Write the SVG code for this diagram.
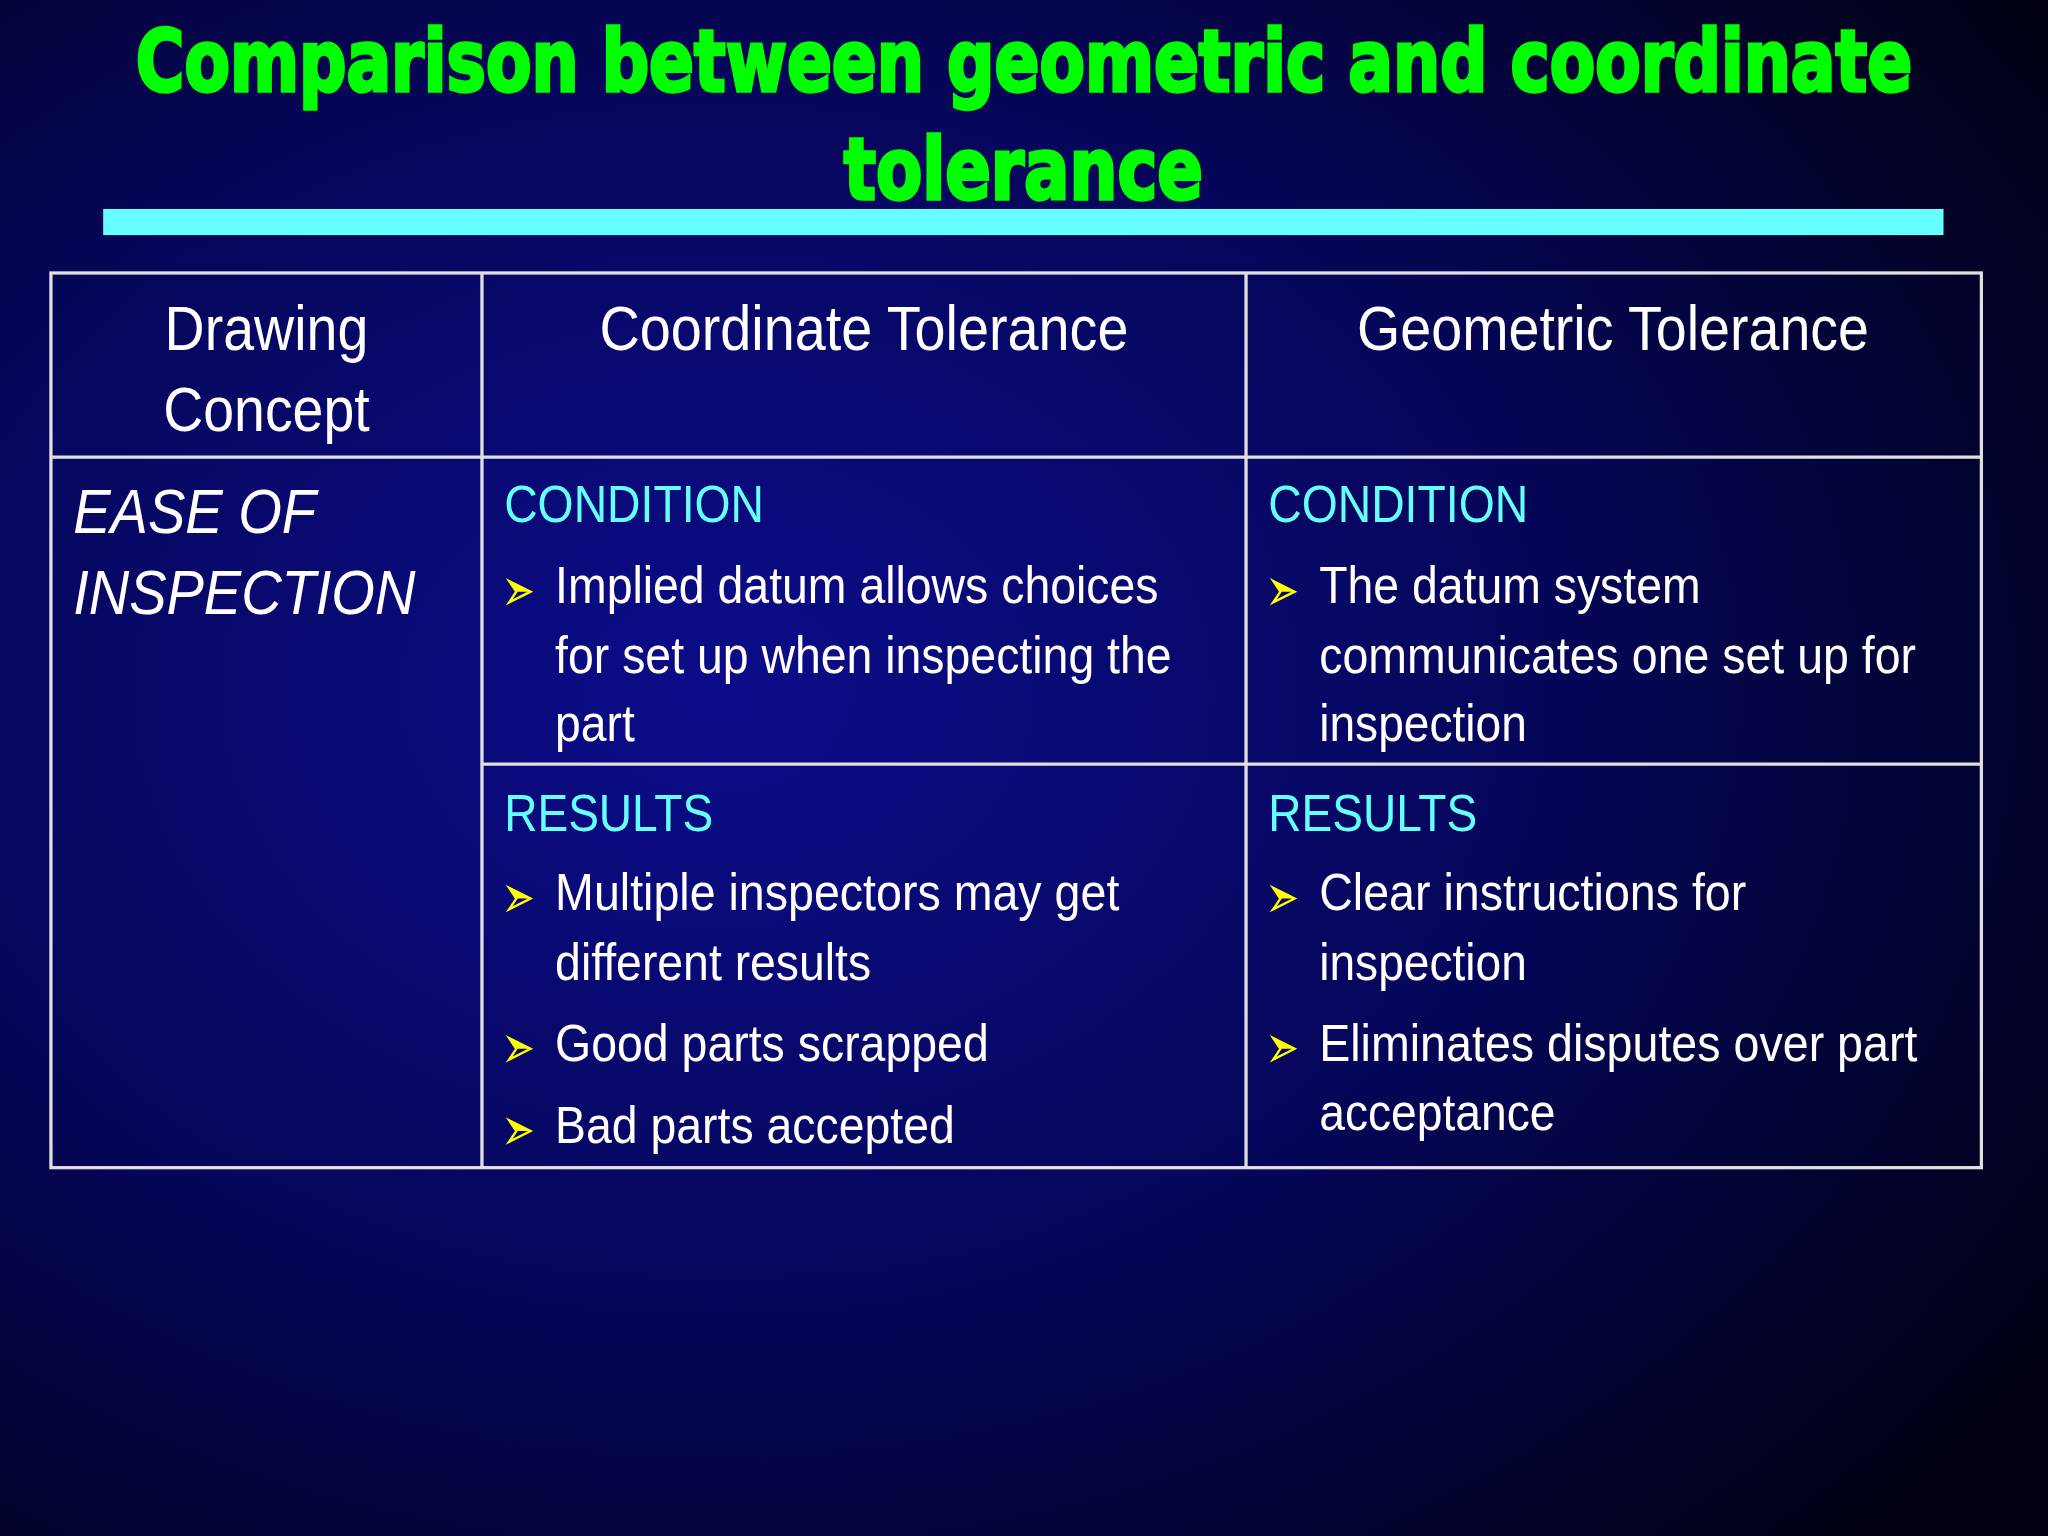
<svg xmlns="http://www.w3.org/2000/svg" width="2048" height="1536" viewBox="0 0 2048 1536">
<defs>
<radialGradient id="bg" cx="0.35" cy="0.45" r="0.8">
<stop offset="0" stop-color="#0c0c8a"/>
<stop offset="0.5" stop-color="#06065a"/>
<stop offset="1" stop-color="#000010"/>
</radialGradient>
<symbol id="arr" viewBox="0 0 22 22" overflow="visible">
<path d="M2 2 L20 11 L2 20 L8 11 Z" fill="none" stroke="#ffff00" stroke-width="2"/>
<path d="M2 2 L20 11 L8 11 Z" fill="#ffff00"/>
</symbol>
<style>
.t{fill:#00ff00;stroke:#00ff00;stroke-width:2.5;font-family:"DejaVu Sans Condensed","DejaVu Sans",sans-serif;font-weight:bold;font-size:66px}
.h{fill:#ffffff;font-family:"Liberation Sans",Arial,sans-serif;font-size:48px}
.c{fill:#ffffff;font-family:"Liberation Sans",Arial,sans-serif;font-size:40px}
.k{fill:#66ffff;font-family:"Liberation Sans",Arial,sans-serif;font-size:40px}
.g{stroke:#e0e0e0;stroke-width:2.5;fill:none}
</style>
</defs>
<rect width="2048" height="1536" fill="url(#bg)"/>
<g transform="scale(1.30612)">
<g id="title">
<text class="t" x="104" y="70" textLength="1360" lengthAdjust="spacingAndGlyphs">Comparison between geometric and coordinate</text>
<text class="t" x="646" y="152" textLength="275" lengthAdjust="spacingAndGlyphs">tolerance</text>
<rect x="79" y="160" width="1409" height="20" fill="#66ffff"/>
</g>
<g id="grid">
<rect x="39" y="209" width="1478" height="685" class="g" stroke-width="4"/>
<line x1="369" y1="209" x2="369" y2="894" class="g"/>
<line x1="954" y1="209" x2="954" y2="894" class="g"/>
<line x1="39" y1="350" x2="1517" y2="350" class="g"/>
<line x1="369" y1="585" x2="1517" y2="585" class="g"/>
</g>
<g id="headers">
<text class="h" x="204" y="268" text-anchor="middle" textLength="156" lengthAdjust="spacingAndGlyphs">Drawing</text>
<text class="h" x="204" y="330" text-anchor="middle" textLength="158" lengthAdjust="spacingAndGlyphs">Concept</text>
<text class="h" x="459" y="268" textLength="405" lengthAdjust="spacingAndGlyphs">Coordinate Tolerance</text>
<text class="h" x="1039" y="268" textLength="392" lengthAdjust="spacingAndGlyphs">Geometric Tolerance</text>
</g>
<g id="concept">
<text class="h" x="56" y="408" font-style="italic" textLength="186" lengthAdjust="spacingAndGlyphs">EASE OF</text>
<text class="h" x="56" y="470" font-style="italic" textLength="262" lengthAdjust="spacingAndGlyphs">INSPECTION</text>
</g>
<g id="coord-condition">
<text class="k" x="386" y="400" textLength="199" lengthAdjust="spacingAndGlyphs">CONDITION</text>
<use href="#arr" x="388" y="442" width="20" height="22"/>
<text class="c" x="425" y="462" textLength="462" lengthAdjust="spacingAndGlyphs">Implied datum allows choices</text>
<text class="c" x="425" y="515" textLength="472" lengthAdjust="spacingAndGlyphs">for set up when inspecting the</text>
<text class="c" x="425" y="567" textLength="61" lengthAdjust="spacingAndGlyphs">part</text>
</g>
<g id="geo-condition">
<text class="k" x="971" y="400" textLength="199" lengthAdjust="spacingAndGlyphs">CONDITION</text>
<use href="#arr" x="973" y="442" width="20" height="22"/>
<text class="c" x="1010" y="462" textLength="292" lengthAdjust="spacingAndGlyphs">The datum system</text>
<text class="c" x="1010" y="515" textLength="457" lengthAdjust="spacingAndGlyphs">communicates one set up for</text>
<text class="c" x="1010" y="567" textLength="159" lengthAdjust="spacingAndGlyphs">inspection</text>
</g>
<g id="coord-results">
<text class="k" x="386" y="636" textLength="160" lengthAdjust="spacingAndGlyphs">RESULTS</text>
<use href="#arr" x="388" y="677" width="20" height="22"/>
<text class="c" x="425" y="697" textLength="432" lengthAdjust="spacingAndGlyphs">Multiple inspectors may get</text>
<text class="c" x="425" y="750" textLength="242" lengthAdjust="spacingAndGlyphs">different results</text>
<use href="#arr" x="388" y="792" width="20" height="22"/>
<text class="c" x="425" y="812" textLength="332" lengthAdjust="spacingAndGlyphs">Good parts scrapped</text>
<use href="#arr" x="388" y="855" width="20" height="22"/>
<text class="c" x="425" y="875" textLength="306" lengthAdjust="spacingAndGlyphs">Bad parts accepted</text>
</g>
<g id="geo-results">
<text class="k" x="971" y="636" textLength="160" lengthAdjust="spacingAndGlyphs">RESULTS</text>
<use href="#arr" x="973" y="677" width="20" height="22"/>
<text class="c" x="1010" y="697" textLength="327" lengthAdjust="spacingAndGlyphs">Clear instructions for</text>
<text class="c" x="1010" y="750" textLength="159" lengthAdjust="spacingAndGlyphs">inspection</text>
<use href="#arr" x="973" y="792" width="20" height="22"/>
<text class="c" x="1010" y="812" textLength="458" lengthAdjust="spacingAndGlyphs">Eliminates disputes over part</text>
<text class="c" x="1010" y="865" textLength="181" lengthAdjust="spacingAndGlyphs">acceptance</text>
</g>
</g>
</svg>
